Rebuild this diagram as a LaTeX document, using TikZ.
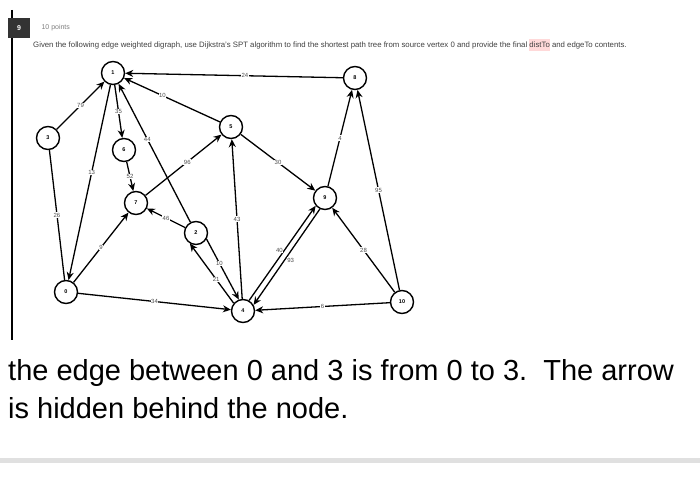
\documentclass[tikz,border=0pt]{standalone}
\usepackage{fontspec}
\setmainfont{Liberation Sans}
\usetikzlibrary{arrows.meta}
\begin{document}
\begin{tikzpicture}[x=1pt,y=-1pt,
  vtx/.style={circle,draw,line width=1.4pt,minimum size=23pt,inner sep=0pt,font=\fontsize{5.5}{6}\selectfont\bfseries,fill=white},
  edge/.style={line width=1.3pt,-{Stealth[length=8pt,width=7pt]}},
  wl/.style={fill=white,inner sep=0.5pt,font=\fontsize{6}{7}\selectfont,text=black!70}]
\useasboundingbox (0,0) rectangle (700,476);
\fill[white] (0,0) rectangle (700,476);
\draw[line width=1.5pt] (12,10) -- (12,340);
\node[fill=black!80,text=white,minimum width=22pt,minimum height=20pt,font=\fontsize{7}{8}\selectfont\bfseries] (num) at (19,28) {9};
\node[anchor=west,text=black!50,font=\fontsize{7}{8}\selectfont] (pts) at (38,28) {10 points};
\node[anchor=west,text=black!75,font=\fontsize{7.8}{8}\selectfont,inner sep=0pt] (q) at (33,45) {Given the following edge weighted digraph, use Dijkstra's SPT algorithm to find the shortest path tree from source vertex 0 and provide the final \colorbox{red!15}{\kern-3pt distTo\kern-3pt} and edgeTo contents.};
\node[vtx] (v1) at (113,73) {1};
\node[vtx] (v3) at (48,138) {3};
\node[vtx] (v6) at (124,150) {6};
\node[vtx] (v7) at (136,203) {7};
\node[vtx] (v5) at (231,127) {5};
\node[vtx] (v2) at (196,233) {2};
\node[vtx] (v0) at (66,292) {0};
\node[vtx] (v4) at (243,311) {4};
\node[vtx] (v9) at (325,198) {9};
\node[vtx] (v8) at (355,78) {8};
\node[vtx] (v10) at (402,302) {10};
\draw[edge] (v3) -- node[wl]{79} (v1);
\draw[line width=1.3pt] (v0) -- node[wl]{26} (v3);
\draw[edge] (v1) -- node[wl,pos=0.45]{13} (v0);
\draw[edge] (v1) -- node[wl]{35} (v6);
\draw[edge] (v6) -- node[wl]{52} (v7);
\draw[edge] (v0) -- node[wl]{9} (v7);
\draw[edge] (v7) -- node[wl,pos=0.55]{96} (v5);
\draw[edge] (v2) -- node[wl,pos=0.6]{44} (v1);
\draw[edge] (v5) -- node[wl,pos=0.6]{10} (v1);
\draw[edge] (v8) -- node[wl,pos=0.45]{24} (v1);
\draw[edge] (v2) -- node[wl]{46} (v7);
\draw[edge] (v2.-30) -- node[wl,pos=0.4]{10} (v4.110);
\draw[edge] (v4.140) -- node[wl,pos=0.4]{21} (v2.240);
\draw[edge] (v4) -- node[wl]{43} (v5);
\draw[edge] (v0) -- node[wl]{34} (v4);
\draw[edge] (v5) -- node[wl]{30} (v9);
\draw[edge] (v4.60) -- node[wl,pos=0.5,xshift=-3pt,yshift=3pt]{40} (v9.220);
\draw[edge] (v9.245) -- node[wl,pos=0.5,xshift=4pt,yshift=-3pt]{93} (v4.30);
\draw[edge] (v9) -- node[wl]{4} (v8);
\draw[edge] (v10) -- node[wl]{28} (v9);
\draw[edge] (v10) -- node[wl]{95} (v8);
\draw[edge] (v10) -- node[wl]{6} (v4);
\node[anchor=base west,font=\fontsize{29}{34}\selectfont,inner sep=0pt] (t1) at (8,380) {the edge between 0 and 3 is from 0 to 3.\ \ The arrow};
\node[anchor=base west,font=\fontsize{29}{34}\selectfont,inner sep=0pt] (t2) at (8,418) {is hidden behind the node.};
\fill[black!12] (0,458) rectangle (700,463);
\end{tikzpicture}
\end{document}
